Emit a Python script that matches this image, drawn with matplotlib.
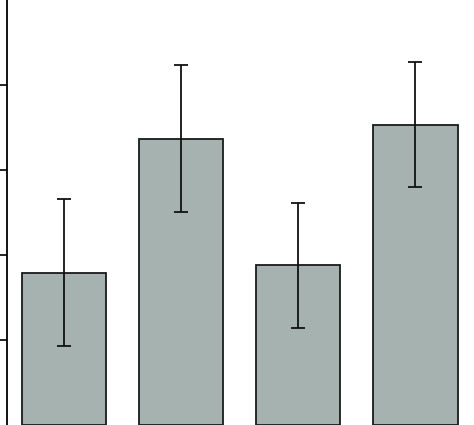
import matplotlib
matplotlib.use("Agg")
import matplotlib.pyplot as plt

categories = ["A", "B", "C", "D"]
values = [1.79, 3.37, 1.88, 3.53]
errors = [0.865, 0.865, 0.735, 0.735]

W, H = 474, 425
fig = plt.figure(figsize=(W/100, H/100), dpi=100)
ax = fig.add_axes([6.5/W, 0, 1 - 6.5/W, 1])
x = list(range(len(categories)))
ax.bar(x, values, width=0.72, color="#a6b2b0", edgecolor="#1a1a1a", linewidth=1.3,
       yerr=errors, error_kw=dict(ecolor="#111111", elinewidth=1.3, capsize=5, capthick=1.3))
ax.set_xlim(-0.49, 3.5)
ax.set_ylim(0, 5)
ax.set_yticks([1, 2, 3, 4])
ax.tick_params(axis="y", length=7, width=1.2, labelleft=False)
ax.set_xticks([])
for s in ["top", "right", "bottom"]:
    ax.spines[s].set_visible(False)
ax.spines["left"].set_linewidth(1.3)
fig.savefig("out.png", dpi=100)
